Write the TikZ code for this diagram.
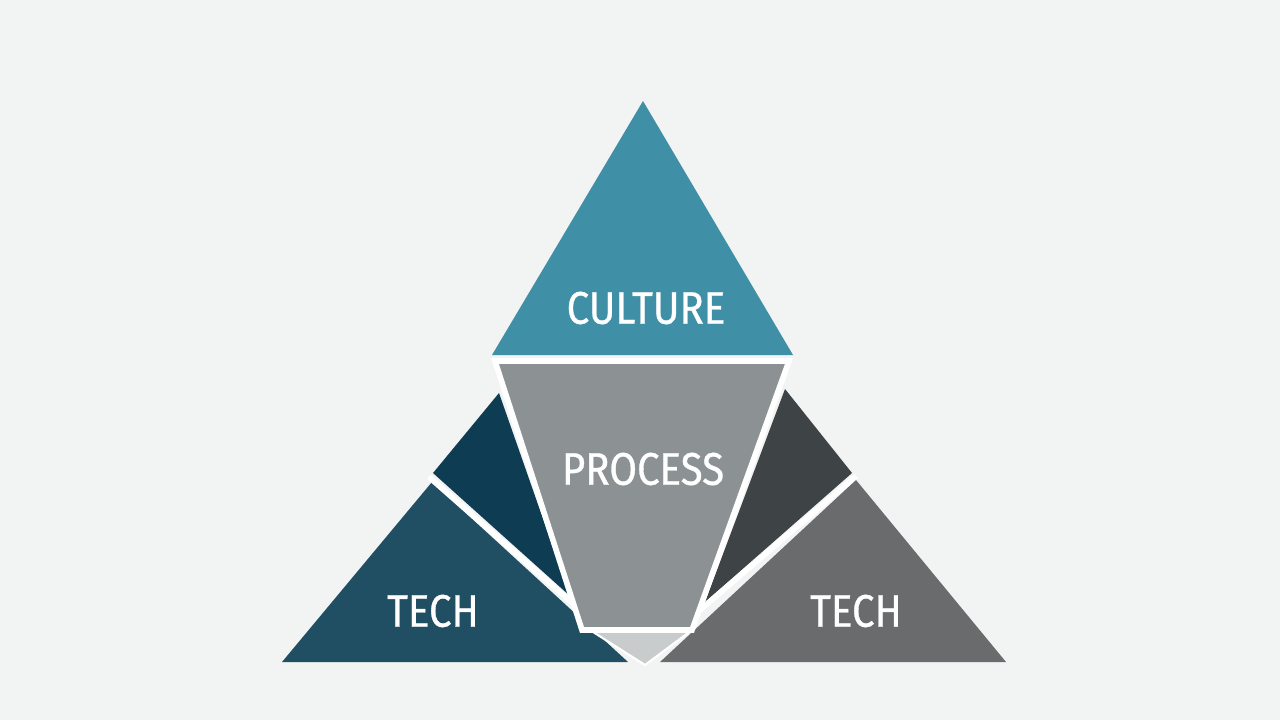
\documentclass[tikz,border=0pt]{standalone}
\usepackage{fontspec}
\setmainfont{Fira Sans}[FakeStretch=0.88, FakeBold=0.7]
\definecolor{bgc}{HTML}{F2F3F3}
\definecolor{culturec}{HTML}{3F8FA6}
\definecolor{processc}{HTML}{8C9294}
\definecolor{lightc}{HTML}{C9CCCD}
\definecolor{navyc}{HTML}{0E3C52}
\definecolor{techlc}{HTML}{204E63}
\definecolor{darkgc}{HTML}{3E4346}
\definecolor{techrc}{HTML}{696B6C}
\tikzset{
  gap/.style={draw=white, line width=3.2pt, line join=miter},
  thingap/.style={draw=white, line width=1.2pt},
  lbl/.style={text=white, font=\fontsize{26}{30}\selectfont, inner sep=0pt}
}
\begin{document}
\begin{tikzpicture}[x=0.02cm,y=-0.02cm]
\useasboundingbox (0,0) rectangle (1280,720);
\fill[bgc] (0,0) rectangle (1280,720);
% tech triangles
\fill[techlc] (282,662) -- (432,482) -- (628,662) -- cycle;
\fill[techrc] (660,662) -- (856,480) -- (1006,662) -- cycle;
% small dark triangles
\fill[navyc] (433,473) -- (499,393) -- (570,596) -- cycle;
\fill[darkgc] (852,473) -- (785,389) -- (705,602) -- cycle;
% separators between small and big triangles
\coordinate (sl1) at (429,477);
\coordinate (sl2) at (578,608);
\coordinate (sr1) at (856,476);
\coordinate (sr2) at (700,610);
\draw[gap] (sl1) -- (sl2);
\draw[gap] (sr1) -- (sr2);
% light bottom triangle
\filldraw[thingap, fill=lightc] (590,630) -- (692,630) -- (645,665) -- cycle;
% culture
\fill[culturec] (492,355) -- (643,101) -- (793,355) -- cycle;
% process
\filldraw[gap, fill=processc] (495,361) -- (789,361) -- (692,630) -- (582,630) -- cycle;
\node[lbl] (culture) at (646,308) {CULTURE};
\node[lbl] (process) at (643,469) {PROCESS};
\node[lbl] (techl) at (433,611) {TECH};
\node[lbl] (techr) at (856,611) {TECH};
\end{tikzpicture}
\end{document}
